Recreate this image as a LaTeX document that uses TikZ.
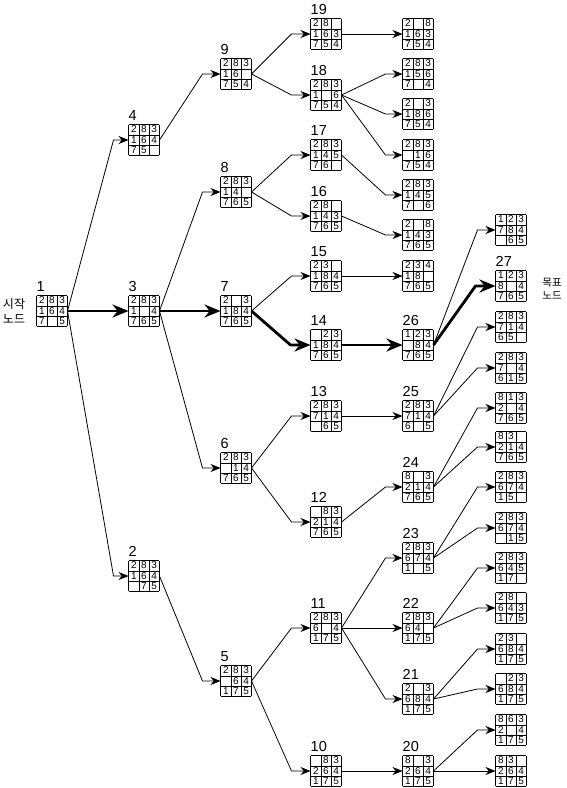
\documentclass[tikz,border=0pt]{standalone}
\usepackage{fontspec}
\setmainfont{Liberation Sans}
\newfontfamily\kofont{Noto Sans CJK KR}
\usetikzlibrary{arrows.meta}

% one cell and one 3x3 board
\newcommand{\cel}[1]{\makebox[10.2pt]{\rule[-1.7pt]{0pt}{9.6pt}#1}}
\newcommand{\pz}[9]{{\setlength{\tabcolsep}{0pt}\renewcommand{\arraystretch}{0}\setlength{\arrayrulewidth}{0.6pt}%
\begin{tabular}{|c|c|c|}\hline
\cel{#1}&\cel{#2}&\cel{#3}\\\hline
\cel{#4}&\cel{#5}&\cel{#6}\\\hline
\cel{#7}&\cel{#8}&\cel{#9}\\\hline
\end{tabular}}}

\begin{document}
\begin{tikzpicture}[x=1pt, y=-1pt,
        board/.style={inner sep=0pt, font=\fontsize{10}{12}\selectfont},
        num/.style={anchor=south west, inner sep=0pt, yshift=3.5pt, font=\fontsize{14.5}{16}\selectfont},
        link/.style={-{Stealth[length=10pt,width=8pt]}, line width=0.8pt},
        solpath/.style={-{Stealth[length=16pt,width=13pt]}, line width=2.8pt}]
        \useasboundingbox (0,0) rectangle (567,788);

        % depth 0 - 2
        \node[board, label={[num]north west:1}] (n1) at (52,311) {\pz{2}{8}{3}{1}{6}{4}{7}{}{5}};
        \node[board, label={[num]north west:4}] (n4) at (144,140) {\pz{2}{8}{3}{1}{6}{4}{7}{5}{}};
        \node[board, label={[num]north west:3}] (n3) at (144,311) {\pz{2}{8}{3}{1}{}{4}{7}{6}{5}};
        \node[board, label={[num]north west:2}] (n2) at (144,576) {\pz{2}{8}{3}{1}{6}{4}{}{7}{5}};
        \node[board, label={[num]north west:9}] (n9) at (236,74) {\pz{2}{8}{3}{1}{6}{}{7}{5}{4}};
        \node[board, label={[num]north west:8}] (n8) at (236,192) {\pz{2}{8}{3}{1}{4}{}{7}{6}{5}};
        \node[board, label={[num]north west:7}] (n7) at (236,311) {\pz{2}{}{3}{1}{8}{4}{7}{6}{5}};
        \node[board, label={[num]north west:6}] (n6) at (236,468) {\pz{2}{8}{3}{}{1}{4}{7}{6}{5}};
        \node[board, label={[num]north west:5}] (n5) at (236,681) {\pz{2}{8}{3}{}{6}{4}{1}{7}{5}};

        % depth 3
        \node[board, label={[num]north west:19}] (n19) at (326,34) {\pz{2}{8}{}{1}{6}{3}{7}{5}{4}};
        \node[board, label={[num]north west:18}] (n18) at (326,95) {\pz{2}{8}{3}{1}{}{6}{7}{5}{4}};
        \node[board, label={[num]north west:17}] (n17) at (326,155) {\pz{2}{8}{3}{1}{4}{5}{7}{6}{}};
        \node[board, label={[num]north west:16}] (n16) at (326,216) {\pz{2}{8}{}{1}{4}{3}{7}{6}{5}};
        \node[board, label={[num]north west:15}] (n15) at (326,276) {\pz{2}{3}{}{1}{8}{4}{7}{6}{5}};
        \node[board, label={[num]north west:14}] (n14) at (326,345) {\pz{}{2}{3}{1}{8}{4}{7}{6}{5}};
        \node[board, label={[num]north west:13}] (n13) at (326,416) {\pz{2}{8}{3}{7}{1}{4}{}{6}{5}};
        \node[board, label={[num]north west:12}] (n12) at (326,522) {\pz{}{8}{3}{2}{1}{4}{7}{6}{5}};
        \node[board, label={[num]north west:11}] (n11) at (326,628) {\pz{2}{8}{3}{6}{}{4}{1}{7}{5}};
        \node[board, label={[num]north west:10}] (n10) at (326,771) {\pz{}{8}{3}{2}{6}{4}{1}{7}{5}};

        % depth 4
        \node[board] (l19) at (418,34) {\pz{2}{}{8}{1}{6}{3}{7}{5}{4}};
        \node[board] (l18a) at (418,74) {\pz{2}{8}{3}{1}{5}{6}{7}{}{4}};
        \node[board] (l18b) at (418,114) {\pz{2}{}{3}{1}{8}{6}{7}{5}{4}};
        \node[board] (l18c) at (418,155) {\pz{2}{8}{3}{}{1}{6}{7}{5}{4}};
        \node[board] (l17) at (418,195) {\pz{2}{8}{3}{1}{4}{5}{7}{}{6}};
        \node[board] (l16) at (418,235) {\pz{2}{}{8}{1}{4}{3}{7}{6}{5}};
        \node[board] (l15) at (418,276) {\pz{2}{3}{4}{1}{8}{}{7}{6}{5}};
        \node[board, label={[num]north west:26}] (n26) at (418,345) {\pz{1}{2}{3}{}{8}{4}{7}{6}{5}};
        \node[board, label={[num]north west:25}] (n25) at (418,416) {\pz{2}{8}{3}{7}{1}{4}{6}{}{5}};
        \node[board, label={[num]north west:24}] (n24) at (418,487) {\pz{8}{}{3}{2}{1}{4}{7}{6}{5}};
        \node[board, label={[num]north west:23}] (n23) at (418,558) {\pz{2}{8}{3}{6}{7}{4}{1}{}{5}};
        \node[board, label={[num]north west:22}] (n22) at (418,628) {\pz{2}{8}{3}{6}{4}{}{1}{7}{5}};
        \node[board, label={[num]north west:21}] (n21) at (418,699) {\pz{2}{}{3}{6}{8}{4}{1}{7}{5}};
        \node[board, label={[num]north west:20}] (n20) at (418,771) {\pz{8}{}{3}{2}{6}{4}{1}{7}{5}};

        % depth 5
        \node[board] (l26) at (511,230) {\pz{1}{2}{3}{7}{8}{4}{}{6}{5}};
        \node[board, label={[num]north west:27}] (n27) at (511,286) {\pz{1}{2}{3}{8}{}{4}{7}{6}{5}};
        \node[board] (l25a) at (511,327) {\pz{2}{8}{3}{7}{1}{4}{6}{5}{}};
        \node[board] (l25b) at (511,368) {\pz{2}{8}{3}{7}{}{4}{6}{1}{5}};
        \node[board] (l24a) at (511,408) {\pz{8}{1}{3}{2}{}{4}{7}{6}{5}};
        \node[board] (l24b) at (511,447) {\pz{8}{3}{}{2}{1}{4}{7}{6}{5}};
        \node[board] (l23a) at (511,487) {\pz{2}{8}{3}{6}{7}{4}{1}{5}{}};
        \node[board] (l23b) at (511,528) {\pz{2}{8}{3}{6}{7}{4}{}{1}{5}};
        \node[board] (l22a) at (511,568) {\pz{2}{8}{3}{6}{4}{5}{1}{7}{}};
        \node[board] (l22b) at (511,608) {\pz{2}{8}{}{6}{4}{3}{1}{7}{5}};
        \node[board] (l21a) at (511,649) {\pz{2}{3}{}{6}{8}{4}{1}{7}{5}};
        \node[board] (l21b) at (511,689) {\pz{}{2}{3}{6}{8}{4}{1}{7}{5}};
        \node[board] (l20a) at (511,730) {\pz{8}{6}{3}{2}{}{4}{1}{7}{5}};
        \node[board] (l20b) at (511,771) {\pz{8}{3}{}{2}{6}{4}{1}{7}{5}};

        \node[font=\kofont\fontsize{12}{15}\selectfont, align=center, inner sep=0pt] (start) at (14,311) {시작\\노드};
        \node[font=\kofont\fontsize{10.5}{12.5}\selectfont, align=center, inner sep=0pt] (goal) at (552,289) {목표\\노드};

        % search tree
        \draw[link] (n1.east) -- ([xshift=-15pt]n4.west) -- (n4.west);
        \draw[solpath] (n1.east) -- (n3.west);
        \draw[link] (n1.east) -- ([xshift=-15pt]n2.west) -- (n2.west);
        \draw[link] (n4.east) -- ([xshift=-18pt]n9.west) -- (n9.west);
        \draw[link] (n3.east) -- ([xshift=-18pt]n8.west) -- (n8.west);
        \draw[solpath] (n3.east) -- (n7.west);
        \draw[link] (n3.east) -- ([xshift=-18pt]n6.west) -- (n6.west);
        \draw[link] (n2.east) -- ([xshift=-18pt]n5.west) -- (n5.west);
        \draw[link] (n9.east) -- ([xshift=-19pt]n19.west) -- (n19.west);
        \draw[link] (n9.east) -- ([xshift=-19pt]n18.west) -- (n18.west);
        \draw[link] (n8.east) -- ([xshift=-19pt]n17.west) -- (n17.west);
        \draw[link] (n8.east) -- ([xshift=-19pt]n16.west) -- (n16.west);
        \draw[link] (n7.east) -- ([xshift=-19pt]n15.west) -- (n15.west);
        \draw[solpath] (n7.east) -- ([xshift=-20pt]n14.west) -- (n14.west);
        \draw[link] (n6.east) -- ([xshift=-19pt]n13.west) -- (n13.west);
        \draw[link] (n6.east) -- ([xshift=-19pt]n12.west) -- (n12.west);
        \draw[link] (n5.east) -- ([xshift=-19pt]n11.west) -- (n11.west);
        \draw[link] (n5.east) -- ([xshift=-19pt]n10.west) -- (n10.west);
        \draw[link] (n19.east) -- (l19.west);
        \draw[link] (n18.east) -- ([xshift=-17pt]l18a.west) -- (l18a.west);
        \draw[link] (n18.east) -- ([xshift=-17pt]l18b.west) -- (l18b.west);
        \draw[link] (n18.east) -- ([xshift=-17pt]l18c.west) -- (l18c.west);
        \draw[link] (n17.east) -- ([xshift=-17pt]l17.west) -- (l17.west);
        \draw[link] (n16.east) -- ([xshift=-17pt]l16.west) -- (l16.west);
        \draw[link] (n15.east) -- (l15.west);
        \draw[solpath] (n14.east) -- (n26.west);
        \draw[link] (n13.east) -- (n25.west);
        \draw[link] (n12.east) -- ([xshift=-17pt]n24.west) -- (n24.west);
        \draw[link] (n11.east) -- ([xshift=-17pt]n23.west) -- (n23.west);
        \draw[link] (n11.east) -- (n22.west);
        \draw[link] (n11.east) -- ([xshift=-17pt]n21.west) -- (n21.west);
        \draw[link] (n10.east) -- (n20.west);
        \draw[link] (n26.east) -- ([xshift=-18pt]l26.west) -- (l26.west);
        \draw[solpath] (n26.east) -- ([xshift=-20pt]n27.west) -- (n27.west);
        \draw[link] (n25.east) -- ([xshift=-18pt]l25a.west) -- (l25a.west);
        \draw[link] (n25.east) -- ([xshift=-18pt]l25b.west) -- (l25b.west);
        \draw[link] (n24.east) -- ([xshift=-18pt]l24a.west) -- (l24a.west);
        \draw[link] (n24.east) -- ([xshift=-18pt]l24b.west) -- (l24b.west);
        \draw[link] (n23.east) -- ([xshift=-18pt]l23a.west) -- (l23a.west);
        \draw[link] (n23.east) -- ([xshift=-18pt]l23b.west) -- (l23b.west);
        \draw[link] (n22.east) -- ([xshift=-18pt]l22a.west) -- (l22a.west);
        \draw[link] (n22.east) -- ([xshift=-18pt]l22b.west) -- (l22b.west);
        \draw[link] (n21.east) -- ([xshift=-18pt]l21a.west) -- (l21a.west);
        \draw[link] (n21.east) -- ([xshift=-18pt]l21b.west) -- (l21b.west);
        \draw[link] (n20.east) -- ([xshift=-18pt]l20a.west) -- (l20a.west);
        \draw[link] (n20.east) -- ([xshift=-18pt]l20b.west) -- (l20b.west);
    \end{tikzpicture}
\end{document}
